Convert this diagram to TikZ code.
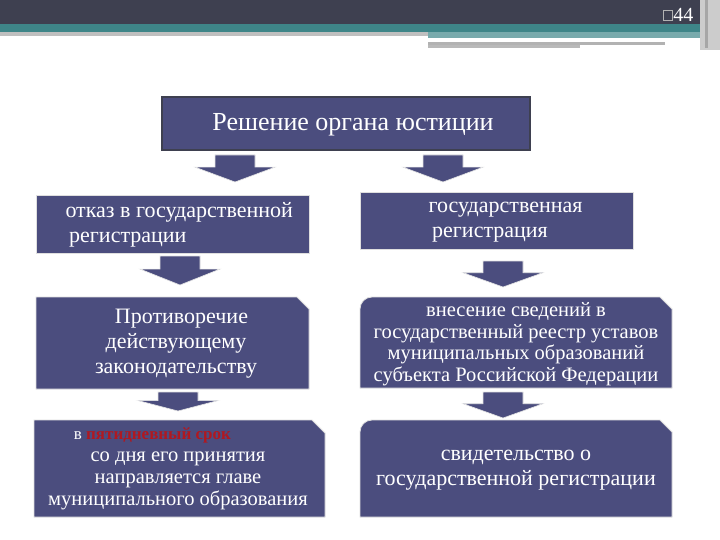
\documentclass[tikz,border=0pt]{standalone}
\usepackage{fontspec}
\setmainfont{Liberation Serif}
\usetikzlibrary{shapes.misc}
\definecolor{boxc}{HTML}{4B4D7E}
\definecolor{bardark}{HTML}{3E4050}
\definecolor{barteal}{HTML}{3E8588}
\definecolor{redt}{HTML}{B01820}
\newcommand{\blockarrow}[3]{% x, ytop, ybot
  \fill[boxc, draw=white!80!gray, line width=0.6pt] (#1-20,#2) -- (#1+20,#2) -- (#1+20,#2+0.45*#3-0.45*#2) -- (#1+40,#2+0.45*#3-0.45*#2) -- (#1,#3) -- (#1-40,#2+0.45*#3-0.45*#2) -- (#1-20,#2+0.45*#3-0.45*#2) -- cycle;}
\begin{document}
\begin{tikzpicture}[x=1pt,y=-1pt,
  txt/.style={text=white,font=\fontsize{22}{25}\selectfont,align=center},
  bx/.style={fill=boxc,draw=white!75!gray,line width=0.8pt}]
\useasboundingbox (0,0) rectangle (720,540);
\fill[white] (0,0) rectangle (720,540);
% header
\fill[bardark] (0,0) rectangle (720,24);
\fill[barteal] (0,24) rectangle (720,32);
\fill[gray!50] (0,32) rectangle (428,36);
\fill[barteal!70] (428,32) rectangle (700,38);
\fill[gray!60] (428,42) rectangle (665,45);
\fill[gray!55] (428,45) rectangle (580,48);
\fill[gray!40] (700,0) rectangle (720,50);
\fill[gray!70] (705,0) rectangle (708,48);
\node[text=white,font=\fontsize{20}{20}\selectfont,anchor=east] (pg) at (697,15) {44};
\draw[gray!60,line width=0.6pt] (663,10) rectangle (672,20);
% boxes
\draw[fill=boxc,draw=bardark,line width=1.2pt] (162,97) rectangle (530,150);
\node[txt,font=\fontsize{26}{28}\selectfont] (top) at (353,125) {Решение органа юстиции};
\draw[bx] (36,195) rectangle (309,253);
\node[txt,align=left,anchor=west] (l1) at (62,225) {отказ в государственной\\ \,регистрации};
\draw[bx] (360,192) rectangle (633,249);
\node[txt,align=left,anchor=west] (r1) at (425,222) {государственная\\ \,регистрация};
\draw[bx] (36,297) -- (297,297) -- (309,309) -- (309,389) -- (36,389) -- cycle;
\node[txt] (l2) at (176,344) {\ \ Противоречие\\действующему\\законодательству};
\draw[bx] (34,420) -- (312,420) -- (325,433) -- (325,517) -- (34,517) -- cycle;
\node[txt,font=\fontsize{20.5}{22}\selectfont] (l3) at (178,469) {\hspace*{-2.5em}\fontsize{17}{20}\selectfont в \textcolor{redt}{\textbf{пятидневный срок}}\\со дня его принятия\\направляется главе\\муниципального образования};
\draw[bx] (372,297) -- (660,297) -- (672,309) -- (672,388) -- (360,388) -- (360,309) arc (180:270:12);
\node[txt,font=\fontsize{20.5}{21.5}\selectfont] (r2) at (516,344) {внесение сведений в\\государственный реестр уставов\\муниципальных образований\\субъекта Российской Федерации};
\draw[bx] (372,420) -- (660,420) -- (672,432) -- (672,517) -- (360,517) -- (360,432) arc (180:270:12);
\node[txt] (r3) at (516,470) {свидетельство о\\государственной регистрации};
% arrows
\blockarrow{235}{155}{182}
\blockarrow{443}{155}{182}
\blockarrow{180}{256}{285}
\blockarrow{503}{261}{287}
\blockarrow{178}{392}{411}
\blockarrow{503}{392}{418}
\end{tikzpicture}
\end{document}
